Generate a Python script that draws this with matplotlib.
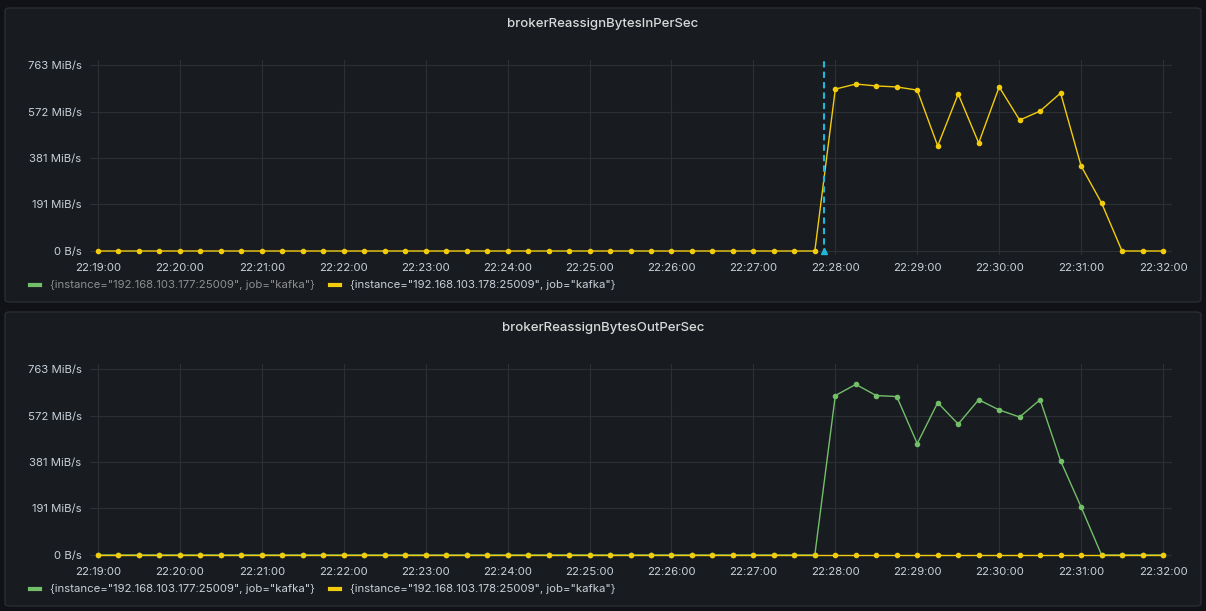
import matplotlib
matplotlib.use("Agg")
from matplotlib import pyplot as plt
from matplotlib.patches import FancyBboxPatch

plt.rcParams['font.family'] = ['Inter', 'DejaVu Sans']

# time in seconds since 22:19:00, one sample every 15 s
times = [i * 15 for i in range(53)]
tick_secs = [i * 60 for i in range(14)]
tick_labels = ["22:%02d:00" % (19 + i) for i in range(14)]
y_ticks = [0, 191, 381, 572, 763]
y_labels = ["0 B/s", "191 MiB/s", "381 MiB/s", "572 MiB/s", "763 MiB/s"]

active_in = [664, 685, 677, 673, 660, 431, 644, 443, 673, 537, 574, 648, 349, 197]
active_out = [654, 700, 654, 650, 457, 625, 537, 637, 595, 566, 637, 386, 197]

in_178 = [0] * 36 + active_in + [0] * 3
out_177 = [0] * 36 + active_out + [0] * 4
out_178 = [0] * 53
annot_sec = 8 * 60 + 52

GREEN = "#73bf69"
YELLOW = "#f2cc0c"
W, H = 1206, 611

fig = plt.figure(figsize=(W / 100, H / 100), dpi=100)
fig.patch.set_facecolor("#111217")

def panel(top, title, series, hidden_green):
    # panel background
    bg = FancyBboxPatch((5 / W, 1 - (top + 294) / H), 1196 / W, 294 / H,
                        boxstyle="round,pad=0,rounding_size=0.004",
                        transform=fig.transFigure, fc="#181b1f",
                        ec="#2a2d33", lw=1, zorder=-5)
    fig.patches.append(bg)
    fig.text(603 / W, 1 - (top + 16) / H, title, color="#d8d9da", fontsize=9.5,
             ha="center", va="center", fontweight="medium")
    y0, y1 = top + 52, top + 247  # axes pixel span
    ax = fig.add_axes([90 / W, 1 - y1 / H, 1082 / W, (y1 - y0) / H])
    ax.set_facecolor("none")
    ppu = 186 / 763
    ax.set_ylim(-(y1 - (top + 243)) / ppu, 763 + ((top + 57) - y0) / ppu)
    ax.set_xlim(-8 / 82 * 60, 780 + 9 / 82 * 60)
    ax.set_xticks(tick_secs)
    ax.set_xticklabels(tick_labels)
    ax.set_yticks(y_ticks)
    ax.set_yticklabels(y_labels)
    ax.tick_params(colors="#c7d0d9", labelsize=8.2, length=0, pad=6)
    ax.grid(True, color="#2c2f34", lw=0.8)
    for s in ax.spines.values():
        s.set_visible(False)
    for vals, col in series:
        ax.plot(times, vals, color=col, lw=1, marker="o", ms=3, zorder=3)
    # legend
    ly = 1 - (top + 277) / H
    fig.add_artist(plt.Line2D([30 / W, 40 / W], [ly, ly], color=GREEN, lw=3,
                              transform=fig.transFigure))
    fig.text(50 / W, ly, '{instance="192.168.103.177:25009", job="kafka"}',
             color="#8e8e8e" if hidden_green else "#c7d0d9", fontsize=8.2, va="center")
    fig.add_artist(plt.Line2D([330 / W, 340 / W], [ly, ly], color=YELLOW, lw=3,
                              transform=fig.transFigure))
    fig.text(350 / W, ly, '{instance="192.168.103.178:25009", job="kafka"}',
             color="#c7d0d9", fontsize=8.2, va="center")
    return ax

ax1 = panel(8, "brokerReassignBytesInPerSec", [(in_178, YELLOW)], True)
ax1.axvline(annot_sec, color="#1fb8d8", lw=1.5, ls=(0, (3, 2)), zorder=4)
ax1.plot([annot_sec], [0], marker="^", color="#1fb8d8", ms=5, zorder=5, clip_on=False)

panel(312, "brokerReassignBytesOutPerSec", [(out_177, GREEN), (out_178, YELLOW)], False)

fig.savefig("out.png", dpi=100, facecolor=fig.get_facecolor())
